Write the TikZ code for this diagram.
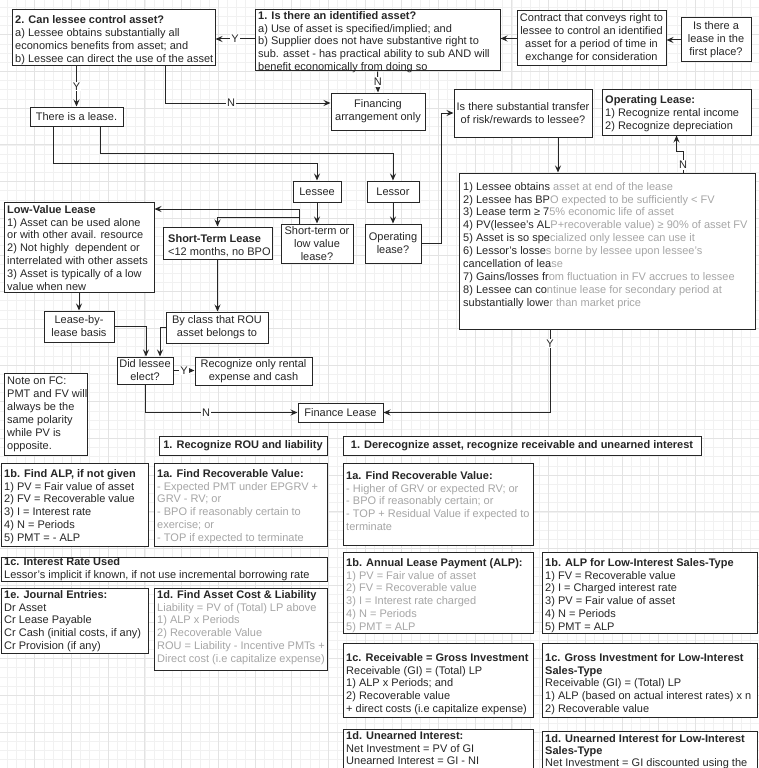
\documentclass[tikz,border=0pt]{standalone}
\usepackage{fontspec}
\setmainfont{Liberation Sans}
\usetikzlibrary{arrows.meta}
\newcommand\blurt[1]{{\color{black!35}#1}}
\tikzset{
 box/.style={draw=black!85, line width=1pt, fill=white, inner sep=0pt},
 fs/.style={font=\fontsize{11}{12.9}\selectfont, text=black!85},
 tx/.style={fs, anchor=north west, inner sep=0pt, align=left},
 ctr/.style={box, fs, align=center},
 arr/.style={draw=black!85, line width=1pt, -{Stealth[length=7pt,width=6pt,inset=2.5pt]}},
 lbl/.style={fs, fill=white, inner sep=1pt},
 gminor/.style={draw=gray!11, line width=0.4pt},
 gmajor/.style={draw=gray!22, line width=0.5pt},
}
\begin{document}
\begin{tikzpicture}[x=1pt,y=-1pt]
\useasboundingbox (0,0) rectangle (759,768);
\clip (0,0) rectangle (759,768);
\fill[white] (0,0) rectangle (759,768);
\foreach \i in {0,...,84} {
  \draw[gminor] ({\i*9.175-2.1},0) -- ({\i*9.175-2.1},768);
  \draw[gminor] (0,{\i*9.175-2.1}) -- (759,{\i*9.175-2.1});
}
\foreach \i in {0,...,21} {
  \draw[gmajor] ({\i*36.7-2.1},0) -- ({\i*36.7-2.1},768);
  \draw[gmajor] (0,{\i*36.7-2.1}) -- (759,{\i*36.7-2.1});
}

% ---------- top row ----------
\node[box, minimum width=203, minimum height=56] (b2) at (113.5,38) {};
\node[tx] (b2t) at (15,15.5) {\textbf{2. Can lessee control asset?}\\a) Lessee obtains substantially all\\economics benefits from asset; and\\b) Lessee can direct the use of the asset};
\node[box, minimum width=245, minimum height=61] (b1) at (377.5,40.5) {};
\node[tx] (b1t) at (258,11) {\textbf{1. Is there an identified asset?}\\a) Use of asset is specified/implied; and\\b) Supplier does not have substantive right to\\sub. asset - has practical ability to sub AND will\\benefit economically from doing so};
\node[ctr, minimum width=149, minimum height=55] (contract) at (591.5,38.5) {Contract that conveys right to\\lessee to control an identified\\asset for a period of time in\\exchange for consideration};
\node[ctr, minimum width=70, minimum height=44] (leaseq) at (716,40) {Is there a\\lease in the\\first place?};

% ---------- second level ----------
\node[ctr, minimum width=93, minimum height=19] (lease1) at (76.5,116.5) {There is a lease.};
\node[ctr, minimum width=94, minimum height=37] (fin) at (378,111.5) {Financing\\arrangement only};
\node[ctr, minimum width=138, minimum height=48] (tr) at (523,113) {Is there substantial transfer\\of risk/rewards to lessee?};
\node[box, minimum width=149, minimum height=46] (opl) at (676.5,112) {};
\node[tx] (oplt) at (605,95.5) {\textbf{Operating Lease:}\\1) Recognize rental income\\2) Recognize depreciation};

\node[box, minimum width=296, minimum height=156] (crit) at (607,251) {};
\node[tx] (critt) at (463,182) {1) Lessee obtains \blurt{asset at end of the lease}\\
2) Lessee has BP\blurt{O expected to be sufficiently < FV}\\
3) Lease term ≥ 7\blurt{5\% economic life of asset}\\
4) PV(lessee's AL\blurt{P+recoverable value) ≥ 90\% of asset FV}\\
5) Asset is so spe\blurt{cialized only lessee can use it}\\
6) Lessor's losse\blurt{s borne by lessee upon lessee's}\\
cancellation of lea\blurt{se}\\
7) Gains/losses fr\blurt{om fluctuation in FV accrues to lessee}\\
8) Lessee can co\blurt{ntinue lease for secondary period at}\\
substantially lowe\blurt{r than market price}};

\node[ctr, minimum width=48, minimum height=21] (lessee) at (317,191.5) {Lessee};
\node[ctr, minimum width=52, minimum height=21] (lessor) at (393,191.5) {Lessor};
\node[ctr, minimum width=72, minimum height=39] (stq) at (317,243.5) {Short-term or\\low value\\lease?};
\node[ctr, minimum width=56, minimum height=39] (opq) at (393,243.5) {Operating\\lease?};
\node[box, minimum width=109, minimum height=32] (stl) at (217.5,243) {};
\node[tx] (stlt) at (168,234) {\textbf{Short-Term Lease}\\<12 months, no BPO};
\node[box, minimum width=150, minimum height=90] (lowval) at (79,247) {};
\node[tx] (lowvalt) at (7,205) {\textbf{Low-Value Lease}\\1) Asset can be used alone\\or with other avail. resource\\2) Not highly\ \ dependent or\\interrelated with other assets\\3) Asset is typically of a low\\value when new};

\node[ctr, minimum width=70, minimum height=31] (lbl) at (79,326.5) {Lease-by-\\lease basis};
\node[ctr, minimum width=102, minimum height=31] (byc) at (217,327.5) {By class that ROU\\asset belongs to};
\node[ctr, minimum width=56, minimum height=27] (did) at (145,370.5) {Did lessee\\elect?};
\node[ctr, minimum width=117, minimum height=28] (rec) at (253.5,371) {Recognize only rental\\expense and cash};
\node[ctr, minimum width=85, minimum height=19] (finl) at (340.5,412.5) {Finance Lease};

\node[box, minimum width=83, minimum height=82] (note) at (45.5,414) {};
\node[tx] (notet) at (7,377) {Note on FC:\\PMT and FV will\\always be the\\same polarity\\while PV is\\opposite.};

% ---------- lower section ----------
\node[ctr, minimum width=168, minimum height=19] (rou) at (243,445.5) {\textbf{1. Recognize ROU and liability}};
\node[ctr, minimum width=358, minimum height=19] (derec) at (522,445.5) {\textbf{1. Derecognize asset, recognize receivable and unearned interest}};

\node[box, minimum width=147, minimum height=83] (alpL) at (74.5,504.5) {};
\node[tx] (alpLt) at (4,469) {\textbf{1b. Find ALP, if not given}\\1) PV = Fair value of asset\\2) FV = Recoverable value\\3) I = Interest rate\\4) N = Periods\\5) PMT = - ALP};
\node[box, minimum width=173, minimum height=83] (recvL) at (240.5,504.5) {};
\node[tx] (recvLt) at (157,469) {\textbf{1a. Find Recoverable Value:}\\\blurt{- Expected PMT under EPGRV +}\\\blurt{GRV - RV; or}\\\blurt{- BPO if reasonably certain to}\\\blurt{exercise; or}\\\blurt{- TOP if expected to terminate}};
\node[box, minimum width=326, minimum height=24] (irate) at (164,569) {};
\node[tx] (iratet) at (4,557.5) {\textbf{1c. Interest Rate Used}\\Lessor's implicit if known, if not use incremental borrowing rate};
\node[box, minimum width=147, minimum height=65] (je) at (74.5,620.5) {};
\node[tx] (jet) at (4,590) {\textbf{1e. Journal Entries:}\\Dr Asset\\Cr Lease Payable\\Cr Cash (initial costs, if any)\\Cr Provision (if any)};
\node[box, minimum width=173, minimum height=82] (costL) at (240.5,629) {};
\node[tx] (costLt) at (157,590) {\textbf{1d. Find Asset Cost \& Liability}\\\blurt{Liability = PV of (Total) LP above}\\\blurt{1) ALP x Periods}\\\blurt{2) Recoverable Value}\\\blurt{ROU = Liability - Incentive PMTs +}\\\blurt{Direct cost (i.e capitalize expense)}};

\node[box, minimum width=190, minimum height=82] (recvR) at (438,504) {};
\node[tx] (recvRt) at (346,471) {\textbf{1a. Find Recoverable Value:}\\\blurt{- Higher of GRV or expected RV; or}\\\blurt{- BPO if reasonably certain; or}\\\blurt{- TOP + Residual Value if expected to}\\\blurt{terminate}};
\node[box, minimum width=190, minimum height=81] (alpR) at (438,592.5) {};
\node[tx] (alpRt) at (346,558) {\textbf{1b. Annual Lease Payment (ALP):}\\\blurt{1) PV = Fair value of asset}\\\blurt{2) FV = Recoverable value}\\\blurt{3) I = Interest rate charged}\\\blurt{4) N = Periods}\\\blurt{5) PMT = ALP}};
\node[box, minimum width=215, minimum height=81] (alpLI) at (649.5,592.5) {};
\node[tx] (alpLIt) at (545,558) {\textbf{1b. ALP for Low-Interest Sales-Type}\\1) FV = Recoverable value\\2) I = Charged interest rate\\3) PV = Fair value of asset\\4) N = Periods\\5) PMT = ALP};
\node[box, minimum width=190, minimum height=74] (giR) at (438,680) {};
\node[tx] (giRt) at (346,653) {\textbf{1c. Receivable = Gross Investment}\\Receivable (GI) = (Total) LP\\1) ALP x Periods; and\\2) Recoverable value\\+ direct costs (i.e capitalize expense)};
\node[box, minimum width=215, minimum height=74] (giLI) at (649.5,680) {};
\node[tx] (giLIt) at (545,653) {\textbf{1c. Gross Investment for Low-Interest}\\\textbf{Sales-Type}\\Receivable (GI) = (Total) LP\\1) ALP (based on actual interest rates) x n\\2) Recoverable value};
\node[box, minimum width=190, minimum height=61] (uiR) at (438,759.5) {};
\node[tx] (uiRt) at (346,731) {\textbf{1d. Unearned Interest:}\\Net Investment = PV of GI\\Unearned Interest = GI - NI};
\node[box, minimum width=215, minimum height=59] (uiLI) at (649.5,760.5) {};
\node[tx, font=\fontsize{11}{12}\selectfont] (uiLIt) at (545,734.5) {\textbf{1d. Unearned Interest for Low-Interest}\\\textbf{Sales-Type}\\Net Investment = GI discounted using the};

% ---------- connectors ----------
\draw[arr] (leaseq.west) -- (leaseq.west -| contract.east);
\draw[arr] (contract.west) -- (contract.west -| b1.east);
\draw[arr] ([yshift=1.5pt]b1.west) -- node[lbl]{Y} ([yshift=1.5pt]b1.west -| b2.east);
\draw[arr] (b2.south -| lease1.north) -- node[lbl]{Y} (lease1.north);
\draw[arr] ([xshift=51.5pt]b2.south) |- node[lbl,pos=0.7]{N} ([yshift=8.5pt]fin.west);
\draw[arr] (b1.south) -- node[lbl]{N} (fin.north);
\draw[arr] ([xshift=-23.5pt]lease1.south) -- ++(0,37) -| (lessee.north);
\draw[arr] ([xshift=23.5pt]lease1.south) -- ++(0,27) -| (lessor.north);
\draw[arr] (lessee.south) -- (stq.north);
\draw[arr] (lessor.south) -- (opq.north);
\draw[arr] ([xshift=-18pt]stq.north) |- ([yshift=38pt]lowval.east);
\draw[arr] ([xshift=-18pt]stq.north) -- ++(0,-6) -| (stl.north);
\draw[arr] (opq.east) -- ++(20,0) |- (tr.west);
\draw[arr] ([xshift=35pt]tr.south) -- ([xshift=35pt]tr.south |- crit.north);
\draw[arr] ([xshift=76pt]crit.north) -- node[lbl,pos=0.35]{N} ++(0,-21) -| (opl.south);
\draw[arr] ([xshift=-57pt]crit.south) |- node[lbl,pos=0.085]{Y} (finl.east);
\draw[arr] (lowval.south) -- (lbl.north);
\draw[arr] (stl.south) -- (stl.south |- byc.north);
\draw[arr] (lbl.east) -| ([xshift=1pt]did.north);
\draw[arr] (byc.west) -| ([xshift=15pt]did.north);
\draw[arr] (did.east) -- node[lbl]{Y} (did.east -| rec.west);
\draw[arr] (did.south) |- node[lbl,pos=0.7]{N} (finl.west);
\end{tikzpicture}
\end{document}
